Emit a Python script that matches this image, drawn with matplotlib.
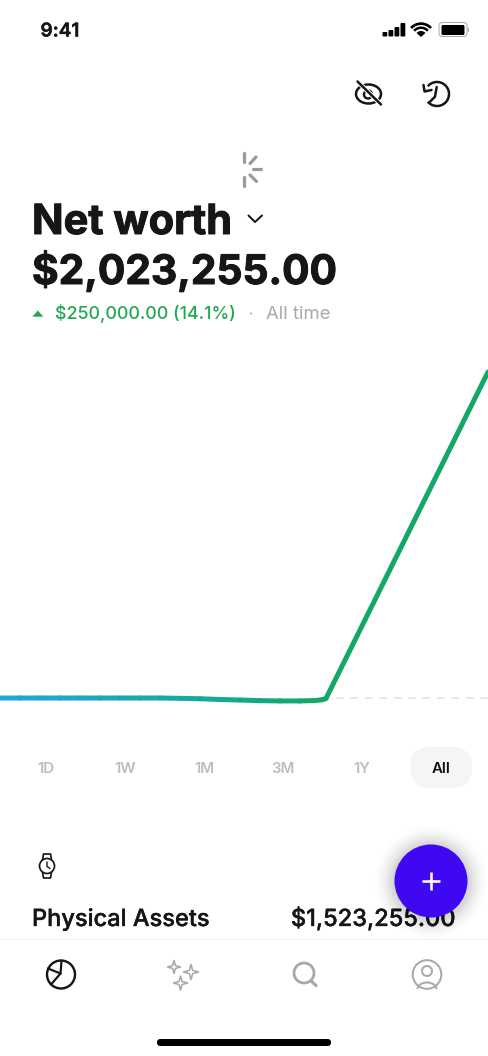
import matplotlib
matplotlib.use("Agg")
import matplotlib.pyplot as plt
import matplotlib.patheffects as pe
import numpy as np
from matplotlib.collections import LineCollection
from matplotlib.colors import LinearSegmentedColormap
from matplotlib.patches import Circle, Rectangle, FancyBboxPatch, Polygon, Arc, Ellipse, Wedge

# ---- data ----
days = [0, 20, 40, 60, 80, 100, 120, 140, 160, 180, 200, 220, 240, 260, 280, 300, 315, 322, 326, 488]
net_worth = [1773255, 1773255, 1773255, 1773255, 1773255, 1773255, 1773255, 1773255, 1773255,
             1773000, 1772700, 1772100, 1771700, 1771200, 1771000, 1771000, 1771300, 1771900,
             1772900, 2023255]
baseline_value = 1773255
latest_value = 2023255
range_labels = ["1D", "1W", "1M", "3M", "1Y", "All"]
title = "Net worth"
total_text = "$2,023,255.00"
change_text = "$250,000.00 (14.1%)"
period_text = "All time"
asset_name = "Physical Assets"
asset_value = "$1,523,255.00"

W, H = 488, 1056
FONT = "Inter"
INK = "#161616"
GREEN = "#22A94F"
GREY = "#A9A9A9"
PX = 0.72  # points per pixel at dpi 100

fig = plt.figure(figsize=(W / 100, H / 100), dpi=100, facecolor="white")
ui = fig.add_axes([0, 0, 1, 1], zorder=1)
ui.set_xlim(0, W); ui.set_ylim(H, 0); ui.axis("off")
ui.patch.set_alpha(0)


def line(pts, color=INK, w=2.0, z=5, cap="round"):
    xs, ys = zip(*pts)
    ui.plot(xs, ys, color=color, lw=w * PX, solid_capstyle=cap, solid_joinstyle="round", zorder=z)


def circle(x, y, r, ec=INK, w=2.0, fc="none", z=5):
    ui.add_patch(Circle((x, y), r, fc=fc, ec=ec, lw=w * PX, zorder=z))


def star(x, y, r, color=GREY, z=9):
    a = r * 0.22
    pts = [(x, y - r), (x + a, y - a), (x + r, y), (x + a, y + a),
           (x, y + r), (x - a, y + a), (x - r, y), (x - a, y - a)]
    ui.add_patch(Polygon(pts, closed=True, fc="white", ec=color, lw=1.6 * PX, joinstyle="round", zorder=z))


def label(x, y, s, size, weight="normal", color=INK, ha="left", va="baseline", z=6, heavy=0.0):
    t = ui.text(x, y, s, fontsize=size * PX, fontweight=weight, color=color, ha=ha, va=va,
                family=FONT, zorder=z)
    if heavy:
        t.set_path_effects([pe.withStroke(linewidth=heavy, foreground=color)])


# ---- chart ----
top_px, base_px = 372.0, 698.0
chart = fig.add_axes([0, 1 - base_px / H, 1, (base_px - top_px) / H], zorder=2)
chart.set_xlim(0, W)
chart.set_ylim(baseline_value, latest_value)
chart.axis("off")
chart.patch.set_alpha(0)
chart.plot([days[-2] + 10, days[-1]], [baseline_value, baseline_value], color="#E4E4E4",
           lw=1.6 * PX, dashes=(5, 4), clip_on=False, zorder=1)
pts = np.column_stack([days, net_worth])
segs = np.stack([pts[:-1], pts[1:]], axis=1)
cmap = LinearSegmentedColormap.from_list(
    "nw", [(0.0, "#1FA8DE"), (0.48, "#18A9AA"), (0.8, "#14A87C"), (1.0, "#14A866")])
colors = cmap(np.clip((pts[:-1, 0] + 10) / 336, 0, 1))
lc = LineCollection(segs, colors=colors, linewidths=5.0 * PX, capstyle="round", joinstyle="round",
                    clip_on=False, zorder=2)
lc.set_snap(False)
chart.add_collection(lc)

# ---- status bar ----
label(40.5, 36.5, "9:41", 19, "semibold", heavy=0.3)
for x, t in zip([382.5, 388.5, 394.5, 400.5], [32, 30, 27, 23]):
    ui.add_patch(FancyBboxPatch((x + .7, t + .7), 3.4, 36.5 - t - 1.4, boxstyle="round,pad=0.7,rounding_size=1",
                                fc="black", ec="none", zorder=5))
ui.add_patch(Wedge((421, 37), 6, 222, 318, fc="black", ec="none", zorder=5))
for r0, r1 in [(8, 10.5), (12, 14.7)]:
    ui.add_patch(Wedge((421, 37), r1, 222, 318, width=r1 - r0, fc="black", ec="none", zorder=5))
ui.add_patch(FancyBboxPatch((440, 23.5), 26, 12, boxstyle="round,pad=1,rounding_size=3.5",
                            fc="white", ec="#A8A8A8", lw=1.0 * PX, zorder=5))
ui.add_patch(FancyBboxPatch((442, 25.5), 22, 9, boxstyle="round,pad=0.5,rounding_size=1.5",
                            fc="black", ec="none", zorder=6))
ui.add_patch(Rectangle((467.5, 28), 1.3, 4, fc="#A8A8A8", ec="none", zorder=5))

# ---- top actions ----
ui.add_patch(Ellipse((368.5, 94), 25, 19, fc="none", ec=INK, lw=2.5 * PX, zorder=5))
circle(368, 94.5, 4, w=2.4)
line([(357.5, 81.5), (381, 104.5)], "white", 4.5, z=6)
line([(357.5, 81.5), (381, 104.5)], INK, 2.5, z=7)
ui.add_patch(Arc((437, 94), 24, 24, theta1=-140, theta2=140, ec=INK, lw=2.5 * PX, zorder=5))
line([(423.5, 85), (424.5, 91.5), (431.5, 90)], INK, 2.5)
line([(436.7, 87), (435, 96.7), (430, 101.7)], INK, 2.5)

# ---- spinner ----
for a, b in [((243.7, 153), (243.7, 161.5)), ((256, 157), (250, 163.5)), ((252.5, 169), (261, 169)),
             ((250, 175), (256.5, 181.5)), ((243.7, 177), (243.7, 186))]:
    line([a, b], "#9A9A9A", 3.2)

# ---- headline ----
label(32, 234, title, 41.5, "bold", heavy=0.7)
line([(248.5, 215.5), (255, 222), (262, 215.5)], INK, 2)
label(32, 284, total_text, 40.7, "bold", heavy=0.7)
ui.add_patch(Polygon([(32.3, 316.7), (43.3, 316.7), (37.8, 310.5)], closed=True, fc=GREEN, ec="none", zorder=5))
label(55, 319, change_text, 17.9, "medium", GREEN)
circle(251, 313.5, 1, ec="none", fc=GREY, w=0)
label(266, 319, period_text, 18.5, "normal", GREY)

# ---- range selector ----
ui.add_patch(FancyBboxPatch((410, 747), 62, 41, boxstyle="round,pad=0,rounding_size=20.5",
                            fc="#F5F5F5", ec="none", zorder=3))
for x, s in zip([46, 125, 204, 283, 362, 441], range_labels):
    label(x, 767.5, s, 15, "semibold", "#111111" if s == "All" else "#BDBDBD", ha="center", va="center_baseline")

# ---- asset row ----
circle(47, 866, 7.5, w=1.7)
for y0, y1 in [(860, 854), (872, 878)]:
    line([(42.5, y0), (43.5, y1), (50.5, y1), (51.5, y0)], INK, 1.7)
line([(47, 862), (47, 866.5), (50, 868.5)], INK, 1.4)
label(32, 926, asset_name, 23.6, "medium", heavy=0.25)
label(455, 926, asset_value, 23.6, "medium", ha="right", heavy=0.25)

# ---- bottom nav ----
ui.add_patch(Rectangle((0, 938), W, H - 938, fc="white", ec="none", zorder=7))
ui.plot([0, W], [938.5, 938.5], color="#F1F1F1", lw=1 * PX, zorder=8)
circle(61, 974.5, 14, w=2.4, z=9)
line([(61.5, 961), (60.5, 973.5)], INK, 2.2, z=9)
line([(48, 968.5), (60.5, 973.5)], INK, 2.2, z=9)
line([(60.5, 973.5), (51, 984.5)], INK, 2.2, z=9)
for x, y, r in [(174, 967, 6.5), (191, 972, 7.5), (180.5, 983, 7)]:
    star(x, y, r)
circle(304, 973, 10, ec=GREY, w=2.8, z=9)
line([(311, 981), (316, 985.5)], GREY, 3.2, z=9)
circle(427, 974.5, 14.3, ec=GREY, w=2, z=9)
circle(427, 971, 5, ec=GREY, w=2, z=9)
ui.add_patch(Arc((427, 989), 19, 13, theta1=180, theta2=360, ec=GREY, lw=2 * PX, zorder=9))
ui.add_patch(FancyBboxPatch((157, 1039), 174, 7, boxstyle="round,pad=0,rounding_size=3.5",
                            fc="black", ec="none", zorder=9))

# ---- floating button ----
for r, a in zip(np.arange(56, 36, -2.5), np.linspace(0.006, 0.035, 8)):
    ui.add_patch(Circle((431, 882), r, fc="black", ec="none", alpha=a, zorder=8))
circle(431, 881, 36.5, ec="none", fc="#3E08F2", w=0, z=10)
line([(422, 881), (440, 881)], "white", 2.6, z=11, cap="butt")
line([(431, 872), (431, 890)], "white", 2.6, z=11, cap="butt")

fig.savefig("out.png", dpi=100, facecolor="white")
